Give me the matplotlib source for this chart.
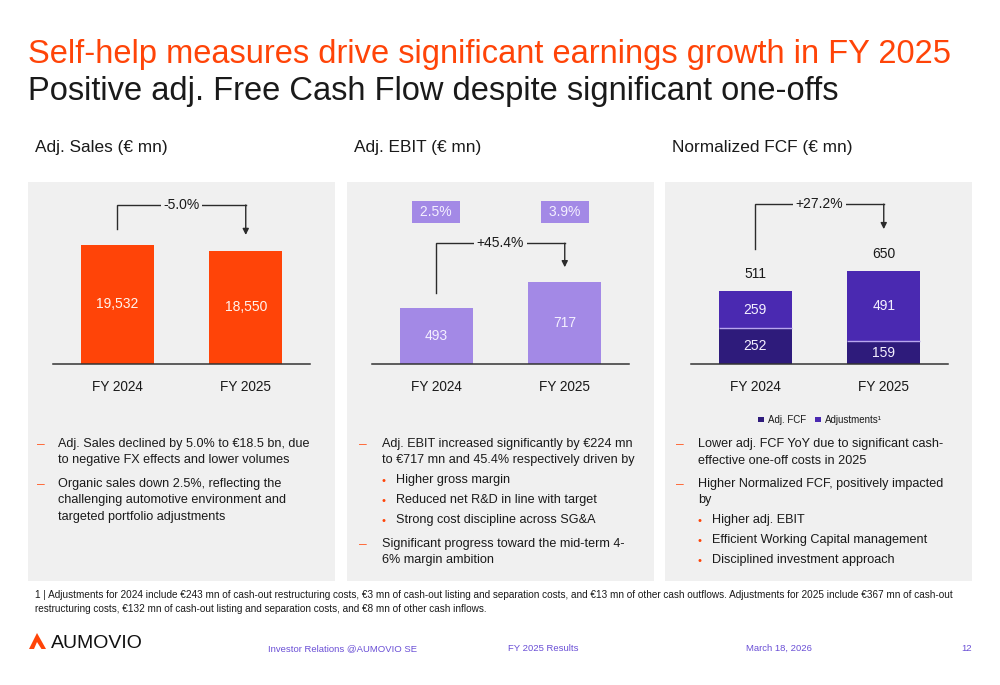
import matplotlib
matplotlib.use('Agg')
import numpy as np
import matplotlib.pyplot as plt
from matplotlib.patches import Rectangle, Polygon
import matplotlib.transforms as mtransforms

plt.rcParams['font.family'] = ['Liberation Sans', 'DejaVu Sans']

# data
years = ['FY 2024', 'FY 2025']
sales = [19532, 18550]
sales_change = '-5.0%'
ebit = [493, 717]
ebit_margin = ['2.5%', '3.9%']
ebit_change = '+45.4%'
fcf_adj = [252, 159]
fcf_adjustments = [259, 491]
fcf_norm = [511, 650]
fcf_change = '+27.2%'

sales_notes = [
    (0, ['Adj. Sales declined by 5.0% to €18.5 bn, due', 'to negative FX effects and lower volumes']),
    (0, ['Organic sales down 2.5%, reflecting the', 'challenging automotive environment and',
         'targeted portfolio adjustments']),
]
ebit_notes = [
    (0, ['Adj. EBIT increased significantly by €224 mn', 'to €717 mn and 45.4% respectively driven by']),
    (1, ['Higher gross margin']),
    (1, ['Reduced net R&D in line with target']),
    (1, ['Strong cost discipline across SG&A']),
    (0, ['Significant progress toward the mid-term 4-', '6% margin ambition']),
]
fcf_notes = [
    (0, ['Lower adj. FCF YoY due to significant cash-', 'effective one-off costs in 2025']),
    (0, ['Higher Normalized FCF, positively impacted', 'by']),
    (1, ['Higher adj. EBIT']),
    (1, ['Efficient Working Capital management']),
    (1, ['Disciplined investment approach']),
]

footnote = ['1 | Adjustments for 2024 include €243 mn of cash-out restructuring costs, €3 mn of cash-out listing and '
            'separation costs, and €13 mn of other cash outflows. Adjustments for 2025 include €367 mn of cash-out',
            'restructuring costs, €132 mn of cash-out listing and separation costs, and €8 mn of other cash inflows.']

# colours
ORANGE = '#ff4408'
LILAC = '#a389e6'
DARK_PURPLE = '#2e1b7b'
PURPLE = '#4a29b1'
PANEL = '#f0f0f0'
TEXT = '#1a1a1a'
FOOT = '#6a4fd6'

W, H = 1000, 685
fig = plt.figure(figsize=(10, 6.85), dpi=100)


def fx(x):
    return x / W


def fy(y):
    return 1 - y / H


# titles
fig.text(fx(28), fy(63), 'Self-help measures drive significant earnings growth in FY 2025',
         color=ORANGE, fontsize=23.5, va='baseline')
fig.text(fx(28), fy(100), 'Positive adj. Free Cash Flow despite significant one-offs',
         color=TEXT, fontsize=23.5, va='baseline')

# panel backgrounds + headers
panel_left = [28, 347, 665]
headers = ['Adj. Sales (€ mn)', 'Adj. EBIT (€ mn)', 'Normalized FCF (€ mn)']
for x0, head in zip(panel_left, headers):
    fig.patches.append(Rectangle((fx(x0), fy(581)), 307 / W, (581 - 182) / H,
                                 transform=fig.transFigure, facecolor=PANEL, edgecolor='none', zorder=-1))
    fig.text(fx(x0 + 7), fy(152), head, fontsize=12.4, color=TEXT, va='baseline')


def make_axes(left, ymax):
    ax = fig.add_axes([fx(left), fy(364), 257 / W, 182 / H])
    ax.set_facecolor('none')
    ax.set_xlim(-0.5, 1.5)
    ax.set_ylim(0, ymax)
    for s in ax.spines.values():
        s.set_visible(False)
    ax.set_yticks([])
    ax.set_xticks([0, 1], years)
    ax.tick_params(axis='x', length=0, pad=11.5, labelsize=9.8, labelcolor=TEXT)
    ax.axhline(0, color='#333333', lw=1.1, zorder=3, clip_on=False)
    return ax


def bracket(ax, left_bottom, top, right_tip, label):
    ax.plot([0, 0, 1], [left_bottom, top, top], color='#2b2b2b', lw=1.0, solid_joinstyle='miter')
    ax.annotate('', xy=(1, right_tip), xytext=(1, top),
                arrowprops=dict(arrowstyle='-|>', color='#2b2b2b', lw=1.0, mutation_scale=9,
                                shrinkA=0, shrinkB=0))
    ax.text(0.5, top, label, ha='center', va='center', fontsize=10, color=TEXT,
            bbox=dict(facecolor=PANEL, edgecolor='none', pad=2))


x = np.arange(len(years))
bw = 0.57

# Adj. Sales
ax1 = make_axes(53, 29870)
u1 = 29870 / 182
ax1.bar(x, sales, width=bw, color=ORANGE, zorder=2)
for i, v in enumerate(sales):
    ax1.text(i, v / 2, f'{v:,}', ha='center', va='center', color='#fff4ee', fontsize=10)
bracket(ax1, sales[0] + 16 * u1, max(sales) + 40 * u1, sales[1] + 16 * u1, sales_change)

# Adj. EBIT
ax2 = make_axes(372, 1596)
u2 = 1596 / 182
ax2.bar(x, ebit, width=bw, color=LILAC, zorder=2)
for i, v in enumerate(ebit):
    ax2.text(i, v / 2, f'{v:,}', ha='center', va='center', color='#f4f0ff', fontsize=10)
bracket(ax2, ebit[0] + 15 * u2, max(ebit) + 39 * u2, ebit[1] + 15 * u2, ebit_change)
blend = mtransforms.blended_transform_factory(ax2.transData, ax2.transAxes)
for i, m in enumerate(ebit_margin):
    ax2.text(i, 0.835, f' {m} ', transform=blend, ha='center', va='center', fontsize=10, color='#f4f0ff',
             bbox=dict(boxstyle='square,pad=0.3', facecolor=LILAC, edgecolor='none'))

# Normalized FCF
ax3 = make_axes(691, 1274)
u3 = 1274 / 182
b_fcf = ax3.bar(x, fcf_adj, width=bw, color=DARK_PURPLE, zorder=2)
b_adj = ax3.bar(x, fcf_adjustments, width=bw, bottom=fcf_adj, color=PURPLE, zorder=2)
ax3.hlines(fcf_adj, x - bw / 2, x + bw / 2, color='#b8a6ee', lw=1.0, zorder=3)
for i in x:
    ax3.text(i, fcf_adj[i] / 2, f'{fcf_adj[i]}', ha='center', va='center', color='#f4f0ff', fontsize=10)
    ax3.text(i, fcf_adj[i] + fcf_adjustments[i] / 2, f'{fcf_adjustments[i]}', ha='center', va='center',
             color='#f4f0ff', fontsize=10)
    ax3.annotate(f'{fcf_norm[i]}', xy=(i, fcf_norm[i]), xytext=(0, 12), textcoords='offset points',
                 ha='center', va='center', fontsize=10, color=TEXT)
bracket(ax3, fcf_norm[0] + 42 * u3, max(fcf_norm) + 67 * u3, fcf_norm[1] + 42 * u3, fcf_change)
ax3.legend([b_fcf, b_adj], ['Adj. FCF', 'Adjustments¹'], loc='center', ncol=2, frameon=False,
           bbox_to_anchor=(fx(820), fy(420)), bbox_transform=fig.transFigure, fontsize=7,
           handlelength=0.55, handleheight=0.55, handletextpad=0.4, columnspacing=1.0,
           labelcolor=TEXT)


# bullet text
def notes(items, dash_x, text_x, dot_x, sub_x):
    y = 444
    prev = None
    for level, lines in items:
        if prev is not None:
            y += 23.5 if level == 0 else 20
        if level == 0:
            fig.text(fx(dash_x), fy(y), '–', color='#ff6a3a', fontsize=10, va='center')
            tx = text_x
        else:
            fig.text(fx(dot_x), fy(y), '•', color=ORANGE, fontsize=8, va='center')
            tx = sub_x
        for k, line in enumerate(lines):
            if k:
                y += 16.5
            fig.text(fx(tx), fy(y + 3), line, color=TEXT, fontsize=9.1, va='baseline')
        prev = level


notes(sales_notes, 37, 58, 58, 72)
notes(ebit_notes, 359, 382, 382, 396)
notes(fcf_notes, 676, 698, 698, 712)

# footnote
fig.text(fx(35), fy(597.5), footnote[0], fontsize=7.2, color=TEXT, va='baseline')
fig.text(fx(35), fy(611.5), footnote[1], fontsize=7.2, color=TEXT, va='baseline')

# footer
fig.patches.append(Polygon([(fx(29), fy(649)), (fx(37), fy(633)), (fx(46), fy(649)),
                            (fx(41.5), fy(649)), (fx(37), fy(642)), (fx(34), fy(649))],
                           closed=True, transform=fig.transFigure, facecolor=ORANGE, edgecolor='none'))
fig.text(fx(51), fy(648), 'AUMOVIO', fontsize=14, color='#111111', va='baseline')
for fx_pos, label in [(268, 'Investor Relations @AUMOVIO SE'), (508, 'FY 2025 Results'),
                      (746, 'March 18, 2026')]:
    fig.text(fx(fx_pos), fy(651), label, fontsize=6.8, color=FOOT, va='baseline')
fig.text(fx(972), fy(651), '12', fontsize=6.8, color=FOOT, va='baseline', ha='right')

fig.savefig('out.png', dpi=100)
